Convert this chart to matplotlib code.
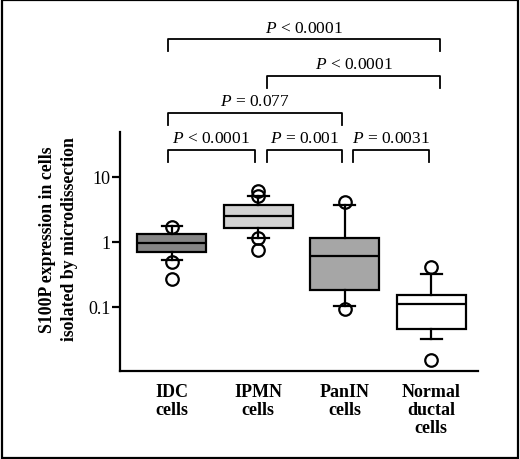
import numpy as np
import matplotlib
matplotlib.use('Agg')
import matplotlib.pyplot as plt
from matplotlib.patches import Rectangle
from matplotlib.transforms import blended_transform_factory

plt.rcParams['font.family'] = ['Liberation Serif', 'DejaVu Serif']
plt.rcParams['mathtext.fontset'] = 'custom'
plt.rcParams['mathtext.rm'] = 'Liberation Serif'
plt.rcParams['mathtext.it'] = 'Liberation Serif:italic'

# --- data ---
groups = ['IDC\ncells', 'IPMN\ncells', 'PanIN\ncells', 'Normal\nductal\ncells']
q1 = [0.70, 1.64, 0.183, 0.045]
med = [0.955, 2.46, 0.61, 0.109]
q3 = [1.31, 3.67, 1.15, 0.153]
whislo = [0.53, 1.15, 0.101, 0.0316]
whishi = [1.73, 4.99, 3.67, 0.318]
points = [[1.70, 0.49, 0.27],
          [5.96, 4.99, 1.15, 0.75],
          [4.12, 0.093],
          [0.41, 0.015]]
box_colors = ['#858585', '#d2d2d2', '#a6a6a6', '#ffffff']

# comparisons: (group a, group b, label)
comparisons = [(0, 1, '$P$ < 0.0001'),
               (1, 2, '$P$ = 0.001'),
               (2, 3, '$P$ = 0.0031'),
               (0, 2, '$P$ = 0.077'),
               (1, 3, '$P$ < 0.0001'),
               (0, 3, '$P$ < 0.0001')]
yticks = [0.1, 1, 10]
ytick_labels = ['0.1', '1', '10']

# --- styling of brackets (axes-fraction heights, x insets) ---
bracket_levels = [0.925, 0.925, 0.925, 1.080, 1.236, 1.389]
bracket_x = [(-0.05, -0.04), (0.10, -0.03), (0.10, -0.03),
             (-0.05, -0.03), (0.10, 0.105), (-0.05, 0.105)]
leg = 0.051

fig = plt.figure(figsize=(5.2, 4.6), dpi=100)
ax = fig.add_axes([120/520, 1-372/460, 358/520, 239/460])

pos = np.arange(1, len(groups) + 1)
stats = []
for i in range(len(groups)):
    stats.append(dict(med=med[i], q1=q1[i], q3=q3[i], whislo=whislo[i],
                      whishi=whishi[i], fliers=points[i]))

lw = 1.6
bp = ax.bxp(stats, positions=pos, widths=0.8, patch_artist=True,
            boxprops=dict(linewidth=lw, edgecolor='black'),
            medianprops=dict(color='black', linewidth=lw),
            whiskerprops=dict(color='black', linewidth=lw),
            capprops=dict(color='black', linewidth=lw),
            capwidths=0.24,
            flierprops=dict(marker='o', markersize=9, markerfacecolor='none',
                            markeredgecolor='black', markeredgewidth=1.6))
for patch, c in zip(bp['boxes'], box_colors):
    patch.set_facecolor(c)

ax.set_yscale('log')
ax.set_ylim(0.01026, 48.7)
ax.set_xlim(0.40, 4.54)
ax.yaxis.set_major_locator(matplotlib.ticker.FixedLocator(yticks))
ax.yaxis.set_minor_locator(matplotlib.ticker.NullLocator())
ax.set_yticklabels(ytick_labels)
ax.set_xticks(pos)
ax.set_xticklabels(groups, fontweight='bold', fontsize=13, linespacing=1.05)
ax.tick_params(axis='x', length=0, pad=9)
ax.tick_params(axis='y', length=6, width=1.6, labelsize=13, pad=1)
for s in ['top', 'right']:
    ax.spines[s].set_visible(False)
for s in ['left', 'bottom']:
    ax.spines[s].set_linewidth(1.6)

ax.set_ylabel('S100P expression in cells\nisolated by microdissection',
              fontweight='bold', fontsize=12.8, linespacing=1.35)
ax.yaxis.set_label_coords(-0.118, 0.555)

trans = blended_transform_factory(ax.transData, ax.transAxes)
for (a, b, lab), lev, (da, db) in zip(comparisons, bracket_levels, bracket_x):
    xa, xb = pos[a] + da, pos[b] + db
    ax.plot([xa, xa, xb, xb], [lev - leg, lev, lev, lev - leg], color='black',
            lw=1.3, transform=trans, clip_on=False)
    ax.annotate(lab, xy=((xa + xb) / 2, lev), xycoords=trans,
                xytext=(0, 2.5), textcoords='offset points',
                ha='center', va='bottom', fontsize=12.5)

fig.patches.append(Rectangle((0.003, 0.003), 0.994, 0.994, fill=False,
                             lw=1.6, edgecolor='black',
                             transform=fig.transFigure, figure=fig))

fig.savefig('out.png', dpi=100)
